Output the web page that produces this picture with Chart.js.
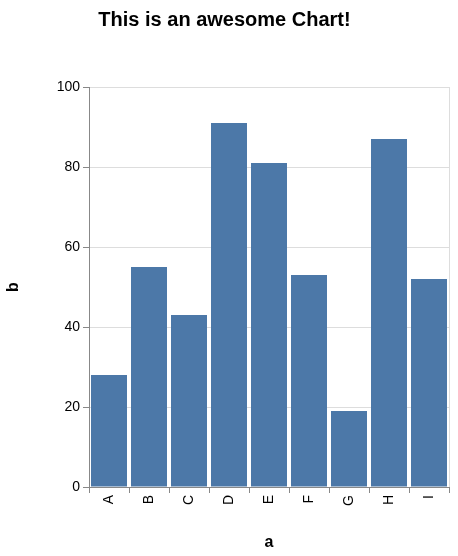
<!DOCTYPE html>
<html><head><meta charset="utf-8">
<script src="https://cdn.jsdelivr.net/npm/chart.js@4"></script>
<style>html,body{margin:0;padding:0;background:#fff}#w{width:458px;height:556px}</style>
</head><body><div id="w"><canvas id="c"></canvas></div>
<script>
const categories = ["A","B","C","D","E","F","G","H","I"];
const values = [28, 55, 43, 91, 81, 53, 19, 87, 52];
const yTicks = [0, 20, 40, 60, 80, 100];
const font = "'Liberation Sans', Arial, sans-serif";
const frame = {id:'frame', afterDraw(ch){const a=ch.chartArea,x=ch.ctx;x.save();x.strokeStyle='#ddd';x.lineWidth=1;x.beginPath();x.moveTo(a.right+0.5,a.top);x.lineTo(a.right+0.5,a.bottom);x.stroke();x.restore();}};
new Chart(document.getElementById('c'), {
  type:'bar',
  data:{labels:categories, datasets:[{data:values, backgroundColor:'#4c78a8', categoryPercentage:1, barPercentage:0.9}]},
  options:{
    responsive:true, maintainAspectRatio:false, animation:false,
    layout:{padding:{right:9,left:0}},
    plugins:{legend:{display:false}, tooltip:{enabled:false},
      title:{display:true,text:'This is an awesome Chart!',color:'#000',font:{family:font,size:20,weight:'bold',lineHeight:1.2},padding:{top:8,bottom:55}}},
    scales:{
      x:{afterFit(s){s.height=69;},
        ticks:{color:'#000',font:{family:font,size:14},minRotation:90,maxRotation:90,padding:2},
        grid:{display:true,drawOnChartArea:false,color:'#888',tickLength:6},
        border:{color:'#888'},
        title:{display:true,text:'a',color:'#000',font:{family:font,size:16,weight:'bold'},padding:{top:0}}},
      y:{min:0,max:100,afterFit(s){s.width=89;},
        afterBuildTicks(s){s.ticks=yTicks.map(v=>({value:v}));},
        ticks:{color:'#000',font:{family:font,size:14},padding:3},
        grid:{color:'#ddd',tickColor:'#888',tickLength:6},
        border:{color:'#888'},
        title:{display:true,text:'b',color:'#000',font:{family:font,size:16,weight:'bold'},padding:{bottom:22}}}
    }
  },
  plugins:[frame]
});
</script></body></html>
